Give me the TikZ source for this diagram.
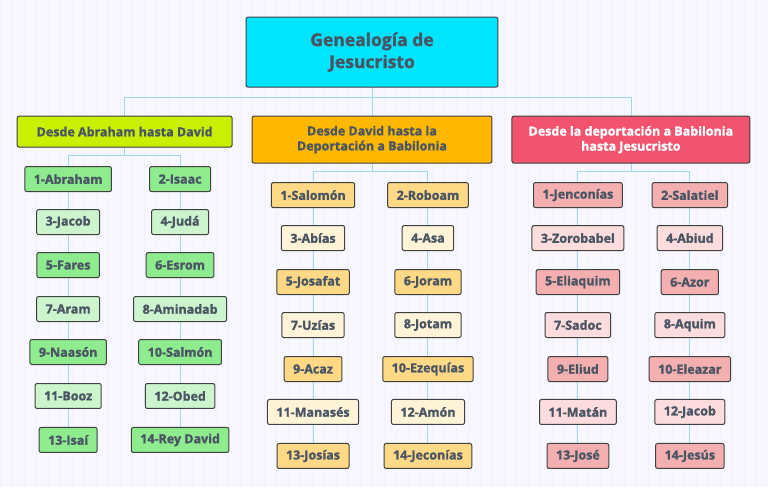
\documentclass[tikz,border=0pt]{standalone}
\usepackage{fontspec}
\setmainfont[FakeBold=1.6]{Open Sans}
\definecolor{tx}{HTML}{4A5564}
\definecolor{cn}{HTML}{9ED8F0}
\definecolor{cgd}{HTML}{8EEB8E}
\definecolor{cgl}{HTML}{CDF5CD}
\definecolor{cod}{HTML}{FFD986}
\definecolor{col}{HTML}{FFF4D8}
\definecolor{crd}{HTML}{F4B0B0}
\definecolor{crl}{HTML}{FCDCDC}
\definecolor{ccy}{HTML}{00E5FF}
\definecolor{clime}{HTML}{C8F000}
\definecolor{cor}{HTML}{FFB800}
\definecolor{cpk}{HTML}{F25470}
\begin{document}
\begin{tikzpicture}[x=1pt,y=-1pt,
  conn/.style={draw=cn, line width=1pt},
  box/.style={draw=black!75, line width=1pt, rounded corners=2pt, text=tx, font=\bfseries\fontsize{12.5}{15}\selectfont, inner xsep=9pt, inner ysep=5pt, minimum height=25pt, align=center},
  gd/.style={box, fill=cgd},
  gl/.style={box, fill=cgl},
  od/.style={box, fill=cod},
  ol/.style={box, fill=col},
  rd/.style={box, fill=crd},
  rl/.style={box, fill=crl},
  hdr/.style={box, minimum height=31pt, inner xsep=10pt},
]
\fill[blue!3!white] (0,0) rectangle (768,487);
\draw[blue!6!white, step=12] (0,0) grid (768,487);
\useasboundingbox (0,0) rectangle (768,487);

% connectors
\draw[conn] (372,87) -- (372,97);
\draw[conn] (124,116) -- (124,97) -- (632,97) -- (632,116);
\draw[conn] (372,97) -- (372,116);
\draw[conn] (124,147) -- (124,155);
\draw[conn] (68,440) -- (68,155) -- (180,155) -- (180,440);
\draw[conn] (372,163) -- (372,171);
\draw[conn] (313,456) -- (313,171) -- (428,171) -- (428,456);
\draw[conn] (632,163) -- (632,171);
\draw[conn] (578,456) -- (578,171) -- (690,171) -- (690,456);

\node[box, fill=ccy, minimum width=252pt, minimum height=70pt, font=\bfseries\fontsize{17.5}{22}\selectfont] (root) at (372,52) {Genealogía de\\Jesucristo};
\node[hdr, fill=clime, minimum width=215pt] (h1) at (124.5,131.5) {Desde Abraham hasta David};
\node[hdr, fill=cor, minimum width=240pt, minimum height=47pt] (h2) at (372,139.5) {Desde David hasta la\\Deportación a Babilonia};
\node[hdr, fill=cpk, text=white, minimum width=238pt, minimum height=47pt] (h3) at (631,139.5) {Desde la deportación a Babilonia\\hasta Jesucristo};

% column 1
\node[gd] (a1) at (68,179) {1-Abraham};
\node[gd] (a2) at (180,179) {2-Isaac};
\node[gl] (a3) at (68,222) {3-Jacob};
\node[gl] (a4) at (180,222) {4-Judá};
\node[gd] (a5) at (68,265) {5-Fares};
\node[gd] (a6) at (180,265) {6-Esrom};
\node[gl] (a7) at (68,309) {7-Aram};
\node[gl] (a8) at (180,309) {8-Aminadab};
\node[gd] (a9) at (68,352) {9-Naasón};
\node[gd] (a10) at (180,352) {10-Salmón};
\node[gl] (a11) at (68,396) {11-Booz};
\node[gl] (a12) at (180,396) {12-Obed};
\node[gd] (a13) at (68,440) {13-Isaí};
\node[gd] (a14) at (180,440) {14-Rey David};

% column 2
\node[od] (b1) at (313,195) {1-Salomón};
\node[od] (b2) at (428,195) {2-Roboam};
\node[ol] (b3) at (313,238) {3-Abías};
\node[ol] (b4) at (428,238) {4-Asa};
\node[od] (b5) at (313,282) {5-Josafat};
\node[od] (b6) at (428,282) {6-Joram};
\node[ol] (b7) at (313,325) {7-Uzías};
\node[ol] (b8) at (428,325) {8-Jotam};
\node[od] (b9) at (313,369) {9-Acaz};
\node[od] (b10) at (428,369) {10-Ezequías};
\node[ol] (b11) at (313,412) {11-Manasés};
\node[ol] (b12) at (428,412) {12-Amón};
\node[od] (b13) at (313,456) {13-Josías};
\node[od] (b14) at (428,456) {14-Jeconías};

% column 3
\node[rd] (c1) at (578,195) {1-Jenconías};
\node[rd] (c2) at (690,195) {2-Salatiel};
\node[rl] (c3) at (578,238) {3-Zorobabel};
\node[rl] (c4) at (690,238) {4-Abiud};
\node[rd] (c5) at (578,282) {5-Eliaquim};
\node[rd] (c6) at (690,282) {6-Azor};
\node[rl] (c7) at (578,325) {7-Sadoc};
\node[rl] (c8) at (690,325) {8-Aquim};
\node[rd] (c9) at (578,369) {9-Eliud};
\node[rd] (c10) at (690,369) {10-Eleazar};
\node[rl] (c11) at (578,412) {11-Matán};
\node[rl] (c12) at (690,412) {12-Jacob};
\node[rd] (c13) at (578,456) {13-José};
\node[rd] (c14) at (690,456) {14-Jesús};
\end{tikzpicture}
\end{document}
